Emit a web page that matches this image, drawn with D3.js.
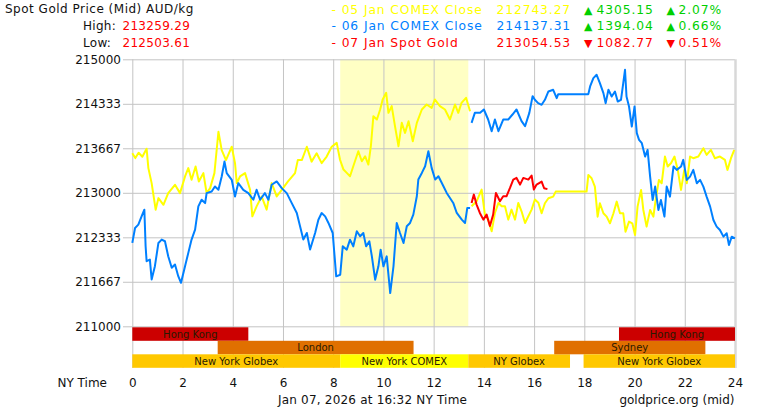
<!DOCTYPE html>
<html>
<head>
<meta charset="utf-8">
<script src="https://cdn.jsdelivr.net/npm/d3@7"></script>
<style>
  body { margin: 0; background: #fff; }
  svg { display: block; font-family: "DejaVu Sans", Verdana, sans-serif; }
</style>
</head>
<body>
<div id="chart"></div>
<script>
// 05 Jan COMEX close series (null = break at COMEX close)
const hours05 = [0,0.12,0.25,0.4,0.57,0.64,0.77,0.93,1.04,1.24,1.43,1.7,1.9,2.1,2.23,2.36,2.52,2.65,2.83,2.96,3.1,3.27,3.43,3.56,3.73,3.96,4.09,4.16,4.29,4.49,4.69,4.78,4.95,5.15,5.35,5.55,5.75,5.95,6.2,6.48,6.59,6.75,6.95,7.14,7.34,7.54,7.74,7.94,8.14,8.27,8.41,8.54,8.67,8.8,9,9.14,9.27,9.4,9.5,9.6,9.74,9.87,9.97,10.11,10.2,10.33,10.46,10.6,10.73,10.86,11,11.17,11.33,11.53,11.72,11.92,12.05,12.25,12.45,12.65,12.85,12.98,13.11,13.29,13.45,13.48,13.51,13.71,13.91,14.04,14.17,14.31,14.44,14.58,14.71,14.84,14.97,15.1,15.24,15.37,15.5,15.64,15.77,15.9,16.03,16.17,16.3,16.43,16.57,16.76,16.86,18.09,18.16,18.29,18.42,18.53,18.62,18.76,18.89,19.02,19.16,19.29,19.42,19.55,19.64,19.78,19.91,20.02,20.12,20.26,20.35,20.48,20.62,20.75,20.84,20.97,21.08,21.21,21.32,21.45,21.59,21.72,21.85,21.98,22.08,22.21,22.34,22.54,22.74,22.87,23.04,23.2,23.4,23.6,23.7,23.84,23.97];
const price05 = [213592,213520,213600,213540,213660,213370,213145,212747,212920,212820,212995,213120,212995,213245,213370,213195,213395,213170,213295,212995,213070,213295,213915,213640,213490,213690,213445,213145,213245,213295,213045,212647,212797,212945,212747,213145,212945,213045,213170,213295,213490,213490,213690,213467,213592,213445,213543,213690,213748,213498,213348,213298,213248,213398,213623,213473,213548,213423,213698,214148,214098,214248,214398,214498,214198,214298,213998,213698,214048,213898,214073,213773,214048,214248,214323,214273,214398,214298,214248,214098,214323,214198,214348,214423,214223,null,212798,212873,213048,212673,212598,212423,212698,212848,212798,212798,212598,212748,212598,212848,212723,212548,212648,212748,212900,212850,212693,212843,212918,212943,213018,213018,213268,213218,213093,212643,212843,212693,212643,212543,212693,212868,212693,212693,212418,212568,212543,212368,212793,213043,212743,212493,212743,212643,212893,213193,213143,213543,213393,213443,213543,213343,213043,213343,213143,213543,213518,213543,213668,213568,213643,213518,213543,213493,213343,213518,213643];

// 06 Jan COMEX close series
const hours06 = [0,0.11,0.24,0.37,0.48,0.53,0.57,0.7,0.77,0.9,1.04,1.17,1.3,1.43,1.57,1.7,1.83,1.94,2.1,2.23,2.36,2.5,2.63,2.76,2.9,2.96,3.16,3.29,3.43,3.56,3.67,3.76,3.96,4.09,4.22,4.42,4.62,4.82,4.95,5.09,5.28,5.42,5.55,5.75,5.95,6.15,6.35,6.55,6.68,6.81,6.95,7.08,7.28,7.41,7.54,7.68,7.81,7.98,8.12,8.28,8.38,8.54,8.67,8.8,8.94,9.07,9.2,9.31,9.44,9.54,9.67,9.8,9.89,10,10.13,10.27,10.4,10.53,10.66,10.8,10.93,11.06,11.19,11.33,11.39,11.53,11.66,11.79,11.92,12.06,12.19,12.39,12.52,12.65,12.78,12.92,13.12,13.25,13.34,13.45,13.48,13.51,13.64,13.85,14,14.17,14.31,14.44,14.58,14.77,14.97,15.14,15.3,15.5,15.64,15.81,15.94,16.03,16.16,16.3,16.43,16.57,16.76,16.9,16.96,18.16,18.23,18.36,18.49,18.62,18.76,18.85,18.96,19.09,19.22,19.33,19.46,19.55,19.62,19.68,19.78,19.89,20,20.09,20.18,20.29,20.42,20.52,20.62,20.72,20.82,20.95,21.05,21.19,21.28,21.41,21.55,21.68,21.85,21.94,22.08,22.21,22.34,22.48,22.61,22.74,22.87,23.01,23.14,23.27,23.4,23.54,23.67,23.76,23.87,24];
const price06 = [212249,212473,212523,212647,212747,212199,211975,212000,211702,211900,212249,212299,212274,212050,211876,211925,211751,211652,211900,212100,212299,212448,212796,212896,212846,212995,213020,213095,213045,213245,213468,213295,213195,212945,213145,213045,212995,212896,213045,212896,212995,212896,213120,213170,213070,212995,212846,212697,212498,212299,212398,212150,212398,212597,212697,212647,212548,212398,211748,211773,212198,212148,212298,212198,212423,212348,212398,212198,212273,212048,211698,211898,212148,211898,212048,211498,211898,212548,212398,212248,212498,212548,212673,212948,213198,213298,213398,213623,213373,213198,213248,213098,212998,212923,212848,212698,212598,212548,212773,212773,null,214048,214198,214198,214248,214098,213923,214098,213923,214098,214098,214173,214248,214073,213998,214198,214448,214393,214343,214318,214393,214518,214543,214418,214478,214478,214593,214718,214768,214643,214493,214343,214543,214443,214518,214368,214393,214643,214843,214443,214293,213993,214293,213893,213793,213743,213543,213643,213243,212893,213093,212743,212893,212643,213093,212943,213393,213343,213393,213493,213193,213243,213343,213143,213193,213093,212943,212793,212593,212493,212443,212343,212393,212218,212343,212318];

// 07 Jan spot gold (today so far)
const hours07 = [13.51,13.6,13.71,13.84,13.98,14.11,14.24,14.37,14.48,14.64,14.77,14.9,15.04,15.17,15.3,15.44,15.57,15.77,15.9,15.99,16.1,16.3,16.4,16.53];
const price07 = [212848,212973,212823,212698,212598,212673,212504,212673,212998,212873,212948,212948,213073,213198,213223,213123,213223,213198,213259,213048,213123,213168,213068,213055];

// trading sessions (NY time, hours)
const sessionNames = ["Hong Kong","London","New York Globex","New York COMEX","NY Globex","Sydney","New York Globex","Hong Kong"];
const sessionStart = [0,3.4,0,8.28,13.38,16.8,17.97,19.38];
const sessionEnd   = [4.62,11.2,8.28,13.38,17.43,22.82,24,24];

const xTicks = [0,2,4,6,8,10,12,14,16,18,20,22,24];
const yTicks = [215000,214333,213667,213000,212333,211667,211000];
const yTickLabels = ["215000","214333","213667","213000","212333","211667","211000"];

const legendLabels = ["- 05 Jan COMEX Close","- 06 Jan COMEX Close","- 07 Jan Spot Gold"];
const legendPrices = ["212743.27","214137.31","213054.53"];
const legendChanges = ["4305.15","1394.04","1082.77"];
const legendPcts = ["2.07%","0.66%","0.51%"];
const legendUp = [true,true,false];
const highLow = ["213259.29","212503.61"];

const W = 770, H = 410;
const seriesColor = ["#ffff00","#0080ff","#ff0000"];
const laneOf = {"Hong Kong":0,"London":1,"Sydney":1,"New York Globex":2,"New York COMEX":2,"NY Globex":2};
const sessionFill = {"Hong Kong":"#cc0000","London":"#e07000","Sydney":"#e07000","New York Globex":"#ffc800","NY Globex":"#ffc800","New York COMEX":"#ffff00"};

const svg = d3.select("#chart").append("svg").attr("width", W).attr("height", H);

const x = d3.scaleLinear().domain([0, 24]).range([132.3, 735]);
const y = d3.scaleLinear().domain([211000, 215000]).range([326.3, 59.3]);

// COMEX hours shading
svg.append("rect")
  .attr("x", x(sessionStart[3])).attr("y", y(215000))
  .attr("width", x(sessionEnd[3]) - x(sessionStart[3]))
  .attr("height", y(211000) - y(215000))
  .attr("fill", "#ffffc4");

// y grid + labels (axis placed at right edge, ticks run left past the plot)
const yAxis = svg.append("g")
  .attr("transform", `translate(${x(24)},0)`)
  .call(d3.axisLeft(y).tickValues(yTicks)
    .tickFormat((d, i) => yTickLabels[i])
    .tickSize(x(24) - 123).tickPadding(2));
yAxis.select(".domain").remove();
yAxis.selectAll("line").attr("stroke", "#c4c4c4");
yAxis.selectAll("text").attr("fill", "#111").attr("font-size", 12).attr("font-family", "DejaVu Sans, Verdana, sans-serif");

// x grid + labels
const xAxis = svg.append("g")
  .attr("transform", `translate(0,${y(215000)})`)
  .call(d3.axisBottom(x).tickValues(xTicks).tickFormat(d3.format("d"))
    .tickSize(368 - y(215000)).tickPadding(10.5));
xAxis.select(".domain").remove();
xAxis.selectAll("line").attr("stroke", "#c4c4c4");
xAxis.selectAll(".tick").filter(d => d === 24).select("line").attr("stroke", "#d8d8d8").attr("stroke-width", 2.5);
xAxis.selectAll("text").attr("fill", "#111").attr("font-size", 12).attr("font-family", "DejaVu Sans, Verdana, sans-serif");

// session bars
const laneTop = 327.3, laneH = 13.5;
const sessions = sessionNames.map((n, i) => ({name: n, s: sessionStart[i], e: sessionEnd[i]}));
const bars = svg.append("g").selectAll("g").data(sessions).enter().append("g");
bars.append("rect")
  .attr("x", d => x(d.s)).attr("width", d => x(d.e) - x(d.s))
  .attr("y", d => laneTop + laneOf[d.name] * laneH).attr("height", laneH)
  .attr("fill", d => sessionFill[d.name]);
bars.append("text")
  .attr("x", d => (x(d.s) + x(d.e)) / 2)
  .attr("y", d => laneTop + laneOf[d.name] * laneH + laneH / 2 + 3.6)
  .attr("text-anchor", "middle").attr("font-size", 10).attr("fill", "#2a1a00")
  .text(d => d.name);

// price lines
const line = d3.line()
  .defined(d => d.v != null)
  .x(d => x(d.t)).y(d => y(d.v));
[[hours05, price05], [hours06, price06], [hours07, price07]].forEach(([hs, ps], i) => {
  svg.append("path")
    .datum(hs.map((t, j) => ({t: t, v: ps[j]})))
    .attr("fill", "none")
    .attr("stroke", seriesColor[i])
    .attr("stroke-width", 2)
    .attr("stroke-linejoin", "round")
    .attr("d", line);
});

// header
svg.append("text").attr("x", 5).attr("y", 13).attr("font-size", 12).attr("letter-spacing", 0.5).attr("fill", "#111")
  .text("Spot Gold Price (Mid) AUD/kg");
["High:", "Low:"].forEach((lab, i) => {
  svg.append("text").attr("x", 83).attr("y", 30 + i * 17).attr("font-size", 12).attr("letter-spacing", 0.3).attr("fill", "#111").text(lab);
  svg.append("text").attr("x", 122.5).attr("y", 30 + i * 17).attr("font-size", 12).attr("letter-spacing", 0.3).attr("fill", "#ff0000").text(highLow[i]);
});

legendLabels.forEach((lab, i) => {
  const ly = 13.5 + i * 16.8;
  const c = seriesColor[i];
  const chg = legendUp[i] ? "#00d000" : "#ff0000";
  const arrow = legendUp[i] ? "▲" : "▼";
  const t = (xx, s, fill, fs) => svg.append("text").attr("x", xx).attr("y", ly)
    .attr("font-size", fs || 12.3).attr("letter-spacing", fs ? 0 : 0.9).attr("fill", fill).text(s);
  t(331.5, lab, c);
  t(496.5, legendPrices[i], c);
  t(584, arrow, chg, 11);
  t(596.5, legendChanges[i], chg);
  t(666.5, arrow, chg, 11);
  t(678.5, legendPcts[i], chg);
});

// footer
svg.append("text").attr("x", 107).attr("y", 387).attr("text-anchor", "end").attr("font-size", 12).attr("fill", "#111").text("NY Time");
svg.append("text").attr("x", 278).attr("y", 404).attr("font-size", 12).attr("letter-spacing", 0.2).attr("fill", "#111").text("Jan 07, 2026 at 16:32 NY Time");
svg.append("text").attr("x", 734.5).attr("y", 404).attr("text-anchor", "end").attr("font-size", 12).attr("fill", "#111").text("goldprice.org (mid)");
</script>
</body>
</html>
